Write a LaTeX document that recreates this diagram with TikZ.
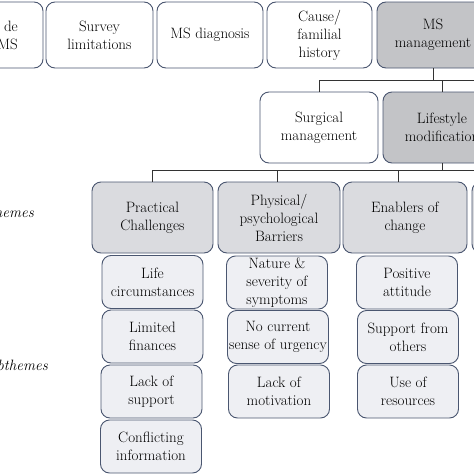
\documentclass[tikz,border=0pt]{standalone}
\usepackage{tikz}
\definecolor{bordc}{HTML}{4A5670}
\definecolor{darkfill}{HTML}{C3C4C7}
\definecolor{themefill}{HTML}{DADBDF}
\definecolor{subfill}{HTML}{EEEFF3}
\definecolor{linec}{HTML}{333333}
\begin{document}
\begin{tikzpicture}[x=1pt,y=-1pt,
  box/.style={draw=bordc,line width=0.9pt,rounded corners=9pt,align=center,inner sep=0pt,
     font=\fontsize{15}{18}\selectfont,fill=white},
  topbox/.style={box,minimum height=66pt},
  midbox/.style={box,minimum height=71pt,minimum width=118pt},
  themebox/.style={box,fill=themefill,minimum height=71pt},
  subbox/.style={box,fill=subfill,minimum height=53pt,minimum width=101pt},
  conn/.style={draw=linec,line width=0.8pt},
  side/.style={font=\fontsize{15}{18}\selectfont\itshape,anchor=east,inner sep=0pt}]
\useasboundingbox (0,0) rectangle (474,474);
\clip (0,0) rectangle (474,474);
% top row
\node[topbox,minimum width=106pt] (b1) at (-10,35) {};
\node[anchor=east,inner sep=0pt,align=right,font=\fontsize{15}{18}\selectfont] (b1t) at (18,35) {de\\MS\hspace{4pt}};
\node[topbox,minimum width=107pt] (b2) at (99.5,35) {Survey\\limitations};
\node[topbox,minimum width=106pt] (b3) at (210,35) {MS diagnosis};
\node[topbox,minimum width=105pt] (b4) at (319.5,35) {Cause/\\familial\\history};
\node[topbox,minimum width=112pt,fill=darkfill] (b5) at (433,35) {MS\\management};
% second row
\node[midbox] (surg) at (319,127.5) {Surgical\\management};
\node[midbox,fill=darkfill] (life) at (442,127.5) {Lifestyle\\modification};
\coordinate (r1) at (520,80);
\draw[conn] (b5.south) -- (b5.south |- r1);
\draw[conn] (surg.north |- r1) -- (r1);
\draw[conn] (surg.north |- r1) -- (surg.north);
\draw[conn] (life.north |- r1) -- (life.north);
% themes
\node[themebox,minimum width=121pt] (prac) at (152.5,217.5) {Practical\\Challenges};
\node[themebox,minimum width=122pt] (phys) at (279,217.5) {Physical/\\psychological\\Barriers};
\node[themebox,minimum width=124pt] (enab) at (405,217.5) {Enablers of\\change};
\node[themebox,minimum width=122pt] (other) at (533,217.5) {};
\coordinate (r2) at (520,170);
\draw[conn] (life.south) -- (life.south |- r2);
\draw[conn] (prac.north |- r2) -- (r2);
\draw[conn] (prac.north |- r2) -- (prac.north);
\draw[conn] ([xshift=-2pt]phys.north |- r2) -- ([xshift=-2pt]phys.north);
\draw[conn] ([xshift=-7pt]enab.north |- r2) -- ([xshift=-7pt]enab.north);
% side labels
\node[side] (thm) at (34,212) {Themes};
\node[side] (sub) at (48,365) {Subthemes};
% subthemes
\node[subbox] (s11) at (152.5,282) {Life\\circumstances};
\node[subbox] (s12) at (152.5,336.5) {Limited\\finances};
\node[subbox] (s13) at (151.5,391.5) {Lack of\\support};
\node[subbox] (s14) at (151,446.5) {Conflicting\\information};
\node[subbox] (s21) at (277,282.5) {Nature \&\\severity of\\symptoms};
\node[subbox] (s22) at (278,337) {No current\\sense of urgency};
\node[subbox] (s23) at (279,391.5) {Lack of\\motivation};
\node[subbox] (s31) at (407,282.5) {Positive\\attitude};
\node[subbox] (s32) at (408,337) {Support from\\others};
\node[subbox] (s33) at (408,391.5) {Use of\\resources};
\end{tikzpicture}
\end{document}
